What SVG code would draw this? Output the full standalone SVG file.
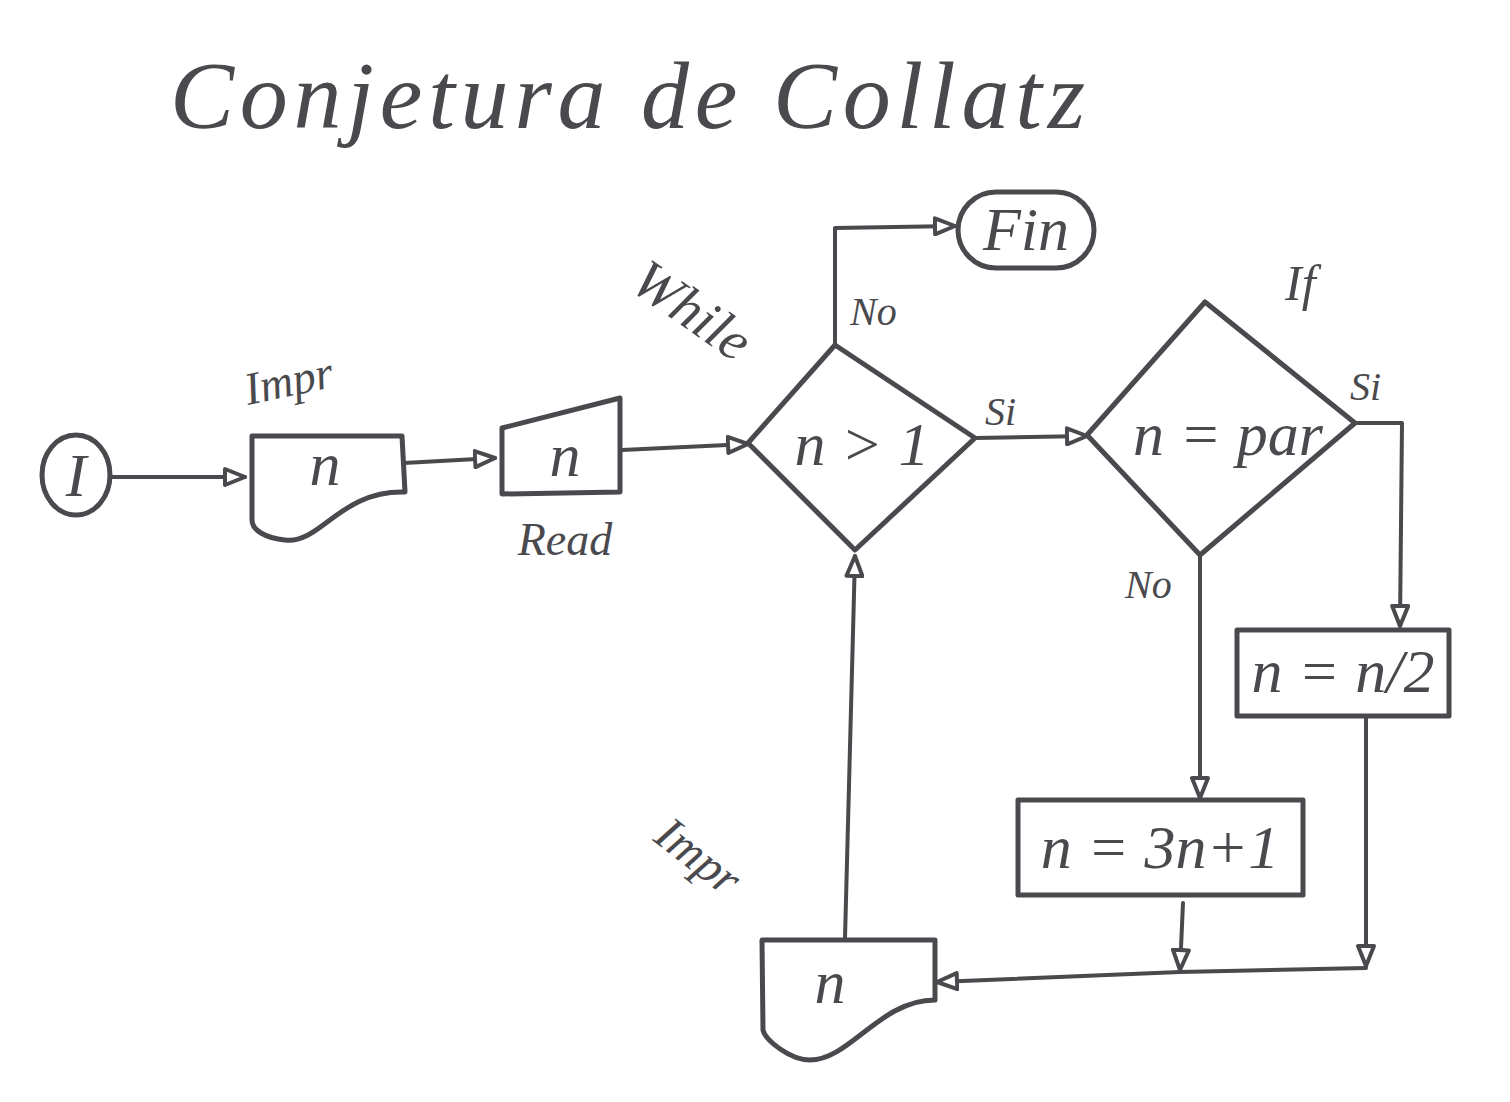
<svg xmlns="http://www.w3.org/2000/svg" width="1510" height="1102" viewBox="0 0 1510 1102">
<style>
.s{fill:none;stroke:#4a4a4e;stroke-width:5;stroke-linejoin:round;stroke-linecap:round}
.c{fill:none;stroke:#4a4a4e;stroke-width:4;stroke-linejoin:round;stroke-linecap:round}
.t{font-family:"Liberation Serif",serif;font-style:italic;fill:#4a4a4e}
.big{font-size:62px}
.lab{font-size:40px}
.mid{text-anchor:middle}
</style>
<defs>
<marker id="a" viewBox="0 0 24 20" refX="22" refY="10" markerWidth="24" markerHeight="20" markerUnits="userSpaceOnUse" orient="auto">
<path d="M2,2 L22,10 L2,18 Z" fill="#fff" stroke="#4a4a4e" stroke-width="4" stroke-linejoin="round"/>
</marker>
</defs>
<rect width="1510" height="1102" fill="#fff"/>
<text class="t" x="170" y="128" font-size="96" textLength="915" lengthAdjust="spacing">Conjetura de Collatz</text>

<g id="connectors">
<path class="c" d="M110,477 L245,477" marker-end="url(#a)"/>
<path class="c" d="M404,463 L495,458" marker-end="url(#a)"/>
<path class="c" d="M622,450 L748,444" marker-end="url(#a)"/>
<path class="c" d="M835,345 L835,228 L955,226" marker-end="url(#a)"/>
<path class="c" d="M975,438 L1087,436" marker-end="url(#a)"/>
<path class="c" d="M1355,423 L1402,423 L1400,626" marker-end="url(#a)"/>
<path class="c" d="M1200,556 L1200,798" marker-end="url(#a)"/>
<path class="c" d="M1183,903 L1180,970" marker-end="url(#a)"/>
<path class="c" d="M1366,718 L1366,966" marker-end="url(#a)"/>
<path class="c" d="M1366,968 L1180,972 L937,982" marker-end="url(#a)"/>
<path class="c" d="M845,938 L855,556" marker-end="url(#a)"/>
</g>

<g id="start">
<ellipse class="s" cx="76" cy="475" rx="34" ry="40"/>
<text class="t mid big" x="76" y="496">I</text>
</g>

<g id="impr1">
<path class="s" d="M252,436 L402,436 L405,492 C340,490 320,545 285,540 C265,538 252,530 252,520 Z"/>
<text class="t mid big" x="325" y="485">n</text>
<text class="t" font-size="46" x="248" y="405" transform="rotate(-12 248 405)">Impr</text>
</g>

<g id="read">
<path class="s" d="M502,428 L620,398 L620,492 L502,494 Z"/>
<text class="t mid big" x="565" y="476">n</text>
<text class="t mid" font-size="46" x="565" y="555">Read</text>
</g>

<g id="while">
<path class="s" d="M835,345 L975,438 L855,550 L748,443 Z"/>
<text class="t mid big" x="862" y="465">n &gt; 1</text>
<text class="t" font-size="56" x="628" y="288" transform="rotate(35 628 288)">While</text>
<text class="t lab" x="850" y="325">No</text>
<text class="t lab" x="985" y="425">Si</text>
</g>

<g id="fin">
<rect class="s" x="958" y="192" width="136" height="76" rx="38"/>
<text class="t mid big" x="1026" y="250">Fin</text>
</g>

<g id="if">
<path class="s" d="M1205,302 L1355,423 L1200,555 L1087,435 Z"/>
<text class="t mid big" x="1228" y="455">n = par</text>
<text class="t" font-size="50" x="1285" y="300">If</text>
<text class="t lab" x="1350" y="400">Si</text>
<text class="t lab" x="1125" y="598">No</text>
</g>

<g id="half">
<rect class="s" x="1237" y="630" width="212" height="86"/>
<text class="t mid big" x="1343" y="692">n = n/2</text>
</g>

<g id="triple">
<rect class="s" x="1018" y="800" width="285" height="95"/>
<text class="t mid big" x="1160" y="868">n = 3n+1</text>
</g>

<g id="impr2">
<path class="s" d="M762,940 L935,940 L935,1000 C880,1000 850,1060 810,1060 C790,1060 765,1040 763,1030 Z"/>
<text class="t mid big" x="830" y="1003">n</text>
<text class="t" font-size="48" x="652" y="840" transform="rotate(38 652 840)">Impr</text>
</g>
</svg>
